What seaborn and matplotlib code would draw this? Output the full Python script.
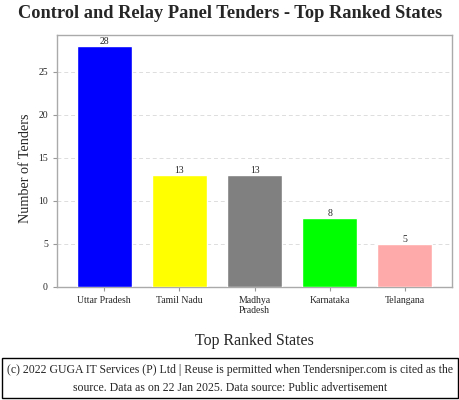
import matplotlib
matplotlib.use("Agg")
import matplotlib.pyplot as plt
import seaborn as sns
import pandas as pd

states = ["Uttar Pradesh", "Tamil Nadu", "Madhya\nPradesh", "Karnataka", "Telangana"]
tenders = [28, 13, 13, 8, 5]
colors = ["#0000FF", "#FFFF00", "#808080", "#00FF00", "#FFAAAA"]

sns.set_style("white")
plt.rcParams["font.family"] = ["Liberation Serif", "DejaVu Serif"]

df = pd.DataFrame({"State": states, "Tenders": tenders})

fig = plt.figure(figsize=(4.6, 4.0), dpi=100)
ax = fig.add_axes([57 / 460, 1 - 287 / 400, (452 - 57) / 460, (287 - 35) / 400])

sns.barplot(data=df, x="State", y="Tenders", hue="State", palette=colors,
            legend=False, width=0.73, saturation=1, ax=ax, zorder=3)

for i, v in enumerate(tenders):
    ax.text(i, v, str(v), ha="center", va="bottom", fontsize=7)

ax.set_xlim(-0.63, 4.63)
ax.set_ylim(0, 29.3)
ax.set_yticks([0, 5, 10, 15, 20, 25])
ax.yaxis.grid(True, linestyle=(0, (4, 3)), color="#dddddd", linewidth=0.7, zorder=0)
ax.tick_params(axis="both", labelsize=7, length=3, color="#999999", left=True, bottom=True)
for s in ax.spines.values():
    s.set_color("#aaaaaa")
    s.set_linewidth(1)

ax.set_xlabel("Top Ranked States", fontsize=11.4, labelpad=13)
ax.set_ylabel("Number of Tenders", fontsize=10.2)
ax.yaxis.set_label_coords(-0.063, 0.472)

fig.suptitle("Control and Relay Panel Tenders - Top Ranked States",
             fontsize=13.2, fontweight="bold", y=0.988)

fig.text(0.5, 1 - 379 / 400,
         "(c) 2022 GUGA IT Services (P) Ltd | Reuse is permitted when Tendersniper.com is cited as the\n"
         "source. Data as on 22 Jan 2025. Data source: Public advertisement",
         ha="center", va="center", fontsize=8.5, linespacing=1.6)
fig.patches.append(plt.Rectangle((2 / 460, 2 / 400), 456 / 460, 40 / 400,
                                 transform=fig.transFigure, fill=False,
                                 edgecolor="black", linewidth=1))

fig.savefig("out.png", dpi=100)
